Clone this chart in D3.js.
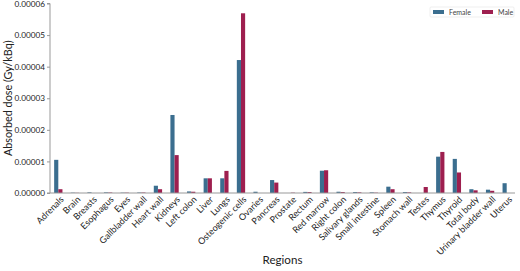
<!DOCTYPE html>
<html>
<head>
<meta charset="utf-8">
<script src="https://cdn.jsdelivr.net/npm/d3@7"></script>
<style>
  body { margin: 0; background: #fff; }
  svg text { font-family: Lato, "DejaVu Sans", sans-serif; fill: #222; }
</style>
</head>
<body>
<svg id="chart" width="520" height="271"></svg>
<script>
const regions = ["Adrenals", "Brain", "Breasts", "Esophagus", "Eyes", "Gallbladder wall",
  "Heart wall", "Kidneys", "Left colon", "Liver", "Lungs", "Osteogenic cells", "Ovaries",
  "Pancreas", "Prostate", "Rectum", "Red marrow", "Right colon", "Salivary glands",
  "Small intestine", "Spleen", "Stomach wall", "Testes", "Thymus", "Thyroid", "Total body",
  "Urinary bladder wall", "Uterus"];
const female = [1.05e-5, 1e-7, 2e-7, 2e-7, 1e-7, 1.5e-7,
  2.3e-6, 2.47e-5, 5e-7, 4.65e-6, 4.65e-6, 4.21e-5, 4e-7,
  4.1e-6, 0, 3.5e-7, 7.05e-6, 4e-7, 3e-7,
  2e-7, 2.0e-6, 3e-7, 0, 1.15e-5, 1.08e-5, 1.2e-6,
  1.05e-6, 3.1e-6];
const male = [1.2e-6, 5e-8, 0, 1.5e-7, 1e-7, 1.5e-7,
  1.2e-6, 1.2e-5, 4e-7, 4.65e-6, 7.0e-6, 5.69e-5, 0,
  3.3e-6, 1e-7, 3e-7, 7.2e-6, 3e-7, 2e-7,
  1e-7, 1.2e-6, 2e-7, 1.9e-6, 1.3e-5, 6.5e-6, 8.5e-7,
  7e-7, 0];
const seriesNames = ["Female", "Male"];
const colors = ["#3b6e8f", "#9e1f4f"];
const yTicks = [0, 0.00001, 0.00002, 0.00003, 0.00004, 0.00005, 0.00006];

const svg = d3.select("#chart");
const plotLeft = 50, plotRight = 515, plotTop = 3.5, plotBottom = 193;

const x = d3.scaleBand().domain(regions).range([plotLeft, plotRight]).paddingInner(0.5).paddingOuter(0.25);
const xs = d3.scaleBand().domain(seriesNames).range([0, x.bandwidth()]);
const y = d3.scaleLinear().domain([0, 0.00006]).range([plotBottom, plotTop]);

const rows = regions.map((r, i) => ({ region: r, vals: [female[i], male[i]] }));

// bars
const groups = svg.append("g").selectAll("g").data(rows).join("g")
  .attr("transform", d => `translate(${x(d.region)},0)`);
groups.selectAll("rect")
  .data(d => d.vals.map((v, k) => ({ v, k })))
  .join("rect")
  .attr("x", d => xs(seriesNames[d.k]))
  .attr("width", xs.bandwidth())
  .attr("y", d => y(d.v))
  .attr("height", d => plotBottom - y(d.v))
  .attr("fill", d => colors[d.k]);

// y axis
const gy = svg.append("g").attr("transform", `translate(${plotLeft},0)`)
  .call(d3.axisLeft(y).tickValues(yTicks).tickFormat(d3.format(".5f")).tickSize(3).tickPadding(2));
gy.selectAll(".domain, .tick line").attr("stroke", "#999");
gy.selectAll(".tick text").style("font-size", "8.2px");
gy.select(".domain").attr("d", `M-3,${plotTop}H0V${plotBottom}H-3`);

// x axis
const gx = svg.append("g").attr("transform", `translate(0,${plotBottom})`)
  .call(d3.axisBottom(x).tickSize(0).tickPadding(4));
gx.select(".domain").attr("stroke", "#999").attr("d", `M${plotLeft},0H${plotRight}`);
gx.selectAll(".tick text")
  .style("font-size", "9px")
  .attr("text-anchor", "end")
  .attr("dy", "0.35em")
  .attr("transform", "translate(1,2) rotate(-45)");

// axis titles
svg.append("text").attr("x", (plotLeft + plotRight) / 2).attr("y", 264)
  .attr("text-anchor", "middle").style("font-size", "11.6px").text("Regions");
svg.append("text").attr("transform", `translate(12,${(plotTop + plotBottom) / 2}) rotate(-90)`)
  .attr("text-anchor", "middle").style("font-size", "10.8px").text("Absorbed dose (Gy/kBq)");

// legend
const lg = svg.append("g").attr("transform", "translate(430,7)");
lg.append("rect").attr("width", 84).attr("height", 10).attr("fill", "#fff")
  .attr("stroke", "#e4e4e4").attr("stroke-width", 0.6).attr("rx", 1);
const lx = [3, 52];
seriesNames.forEach((s, k) => {
  lg.append("rect").attr("x", lx[k]).attr("y", 3).attr("width", 11).attr("height", 4).attr("fill", colors[k]);
  lg.append("text").attr("x", lx[k] + 16).attr("y", 7.6).style("font-size", "7px").style("fill", "#444").text(s);
});
</script>
</body>
</html>
